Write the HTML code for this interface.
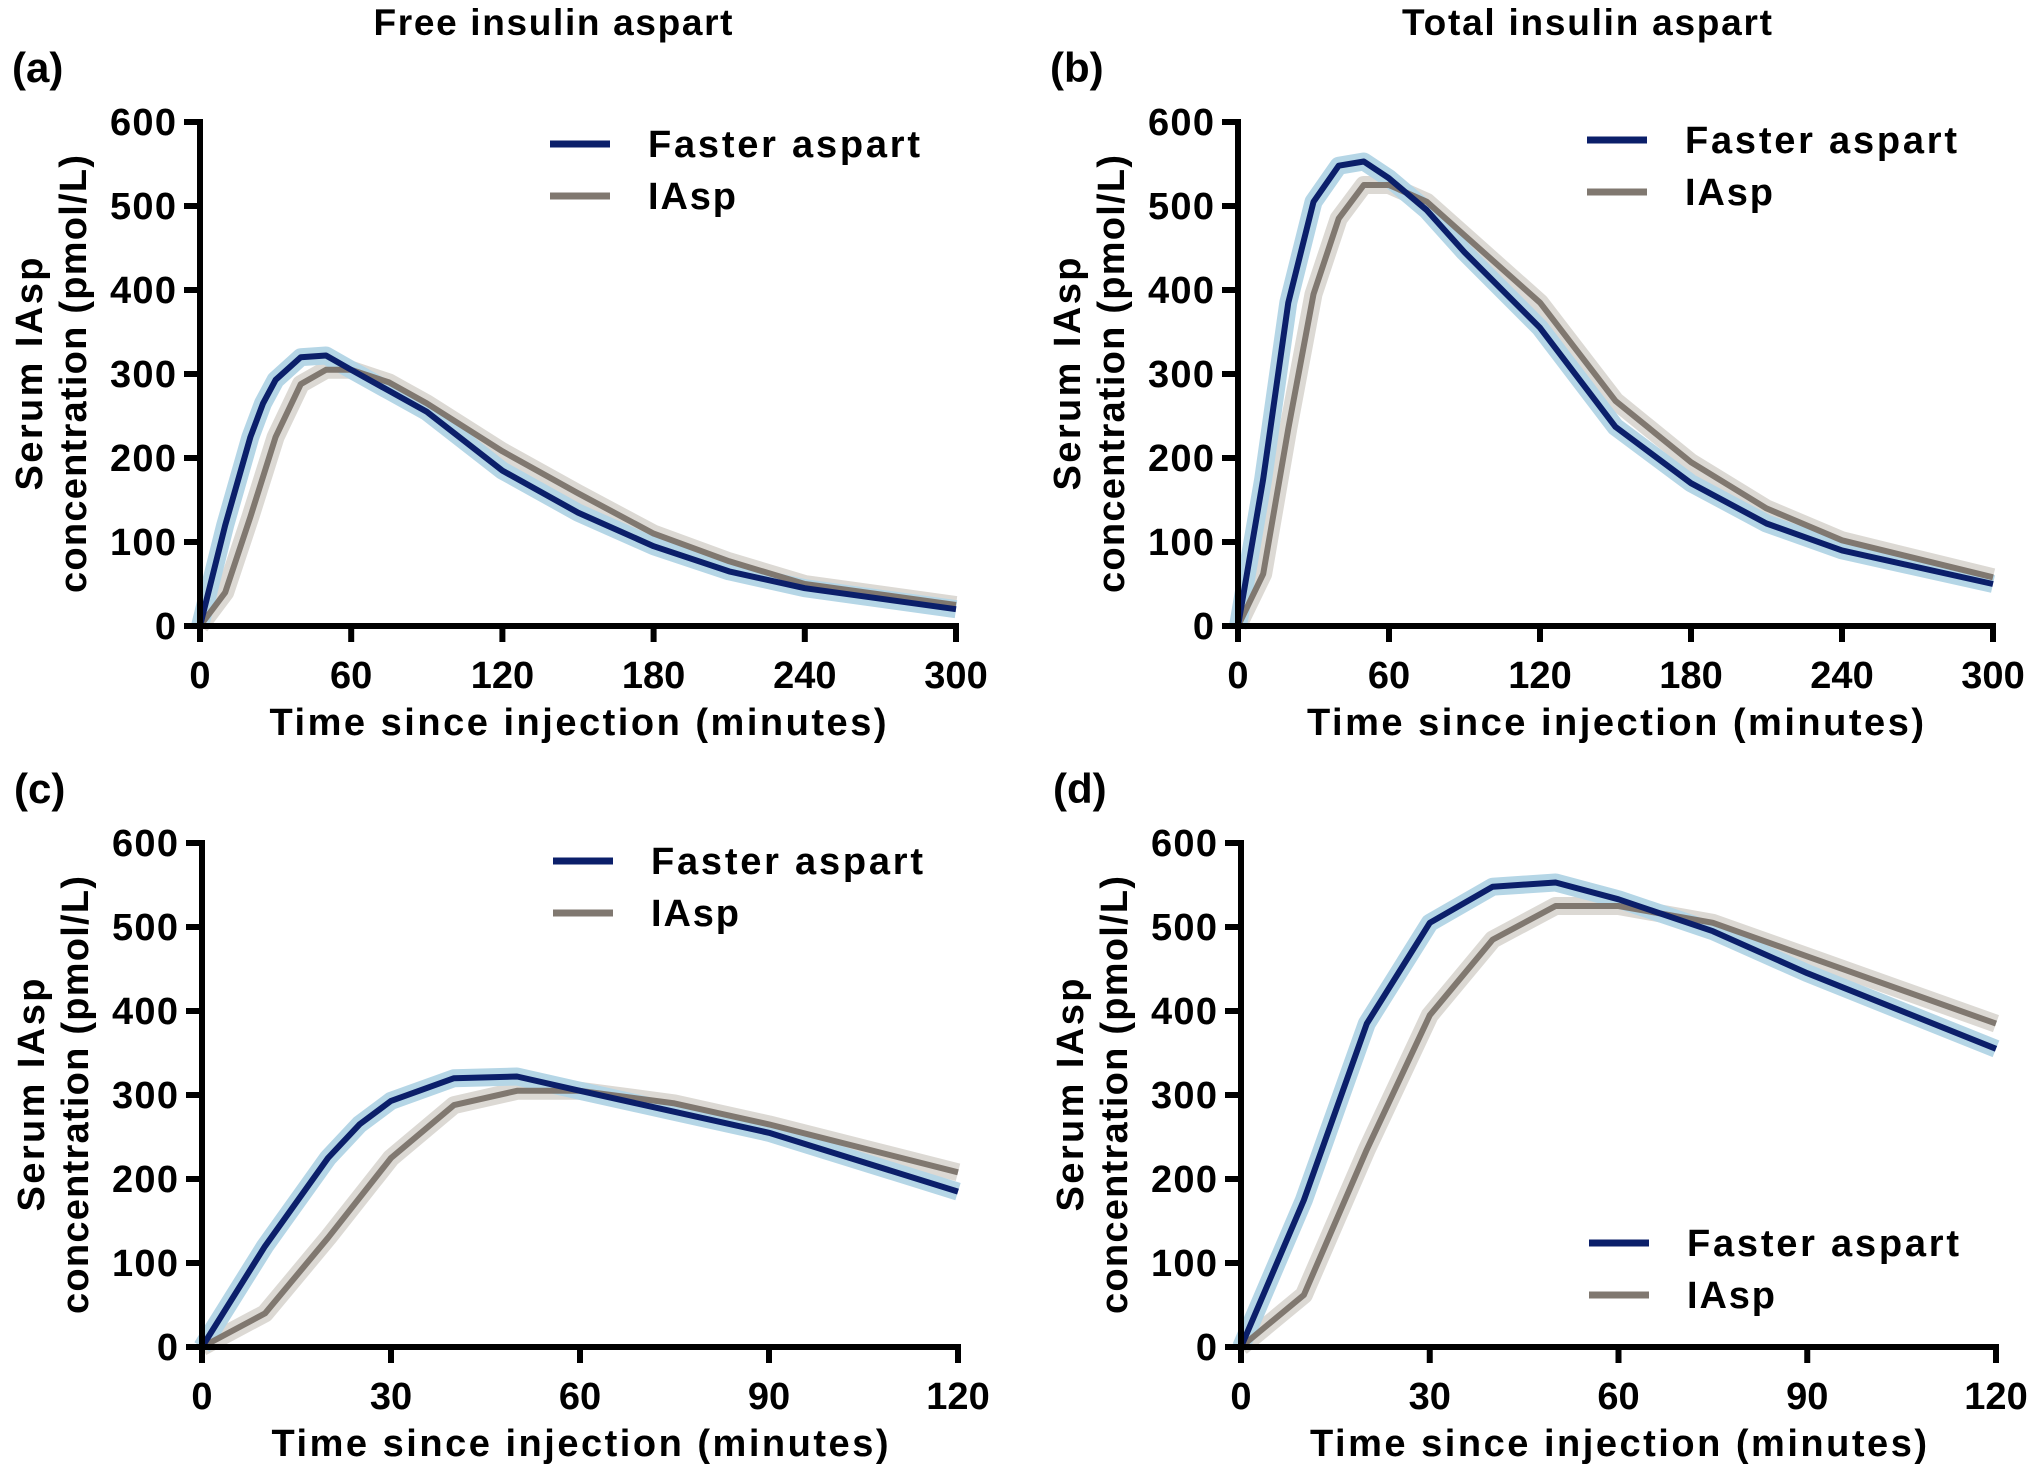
<!DOCTYPE html>
<html><head><meta charset="utf-8"><style>
html,body{margin:0;padding:0;background:#fff;}
svg{display:block;font-family:"Liberation Sans",Arial,sans-serif;font-weight:bold;}
</style></head><body>
<svg id="s" width="2031" height="1470" viewBox="0 0 2031 1470" xmlns="http://www.w3.org/2000/svg">
<text x="553" y="35" font-size="37" text-anchor="middle" textLength="359" lengthAdjust="spacing">Free insulin aspart</text>
<text x="1587" y="35" font-size="37" text-anchor="middle" textLength="370" lengthAdjust="spacing">Total insulin aspart</text>
</svg>
<script>
var S=document.getElementById('s'),NS='http://www.w3.org/2000/svg';
function el(t,a,txt){var e=document.createElementNS(NS,t);for(var k in a)e.setAttribute(k,a[k]);if(txt!==undefined)e.textContent=txt;S.appendChild(e);return e;}
var freeF=[[0,0],[10,120],[20,225],[25,265],[30,293],[40,320],[50,322],[60,305],[75,280],[90,255],[120,185],[150,135],[180,95],[210,65],[240,45],[300,20]];
var freeI=[[0,0],[10,40],[20,130],[30,225],[40,288],[50,305],[60,305],[75,290],[90,265],[120,208],[150,158],[180,110],[210,77],[240,50],[300,25]];
var totF=[[0,0],[10,175],[20,385],[30,505],[40,548],[50,553],[60,533],[75,495],[90,445],[120,355],[150,237],[180,170],[210,122],[240,90],[300,50]];
var totI=[[0,0],[10,62],[20,235],[30,395],[40,485],[50,525],[60,525],[75,505],[90,465],[120,385],[150,268],[180,195],[210,140],[240,102],[300,58]];
function panel(o){
 var x0=o.x0,x1=o.x1,y0=o.y0,y1=o.y1,xm=o.xmax;
 function X(v){return x0+(x1-x0)*v/xm;} function Y(v){return y0+(y1-y0)*v/600;}
 function pts(d){return d.filter(function(p){return p[0]<=xm;}).map(function(p){return X(p[0]).toFixed(1)+','+Y(p[1]).toFixed(1);}).join(' ');}
 el('polyline',{points:pts(o.I),fill:'none',stroke:'#dcd9d4','stroke-width':18,'stroke-linejoin':'round'});
 el('polyline',{points:pts(o.F),fill:'none',stroke:'#b5d6e6','stroke-width':18,'stroke-linejoin':'round'});
 el('polyline',{points:pts(o.I),fill:'none',stroke:'#807870','stroke-width':6,'stroke-linejoin':'round'});
 el('polyline',{points:pts(o.F),fill:'none',stroke:'#0b1f6a','stroke-width':6,'stroke-linejoin':'round'});
 el('path',{d:'M'+x0+','+(y1-3)+'V'+y0+'H'+(x1+3),fill:'none',stroke:'#000','stroke-width':6});
 for(var v=0;v<=600;v+=100){var y=Y(v);el('line',{x1:x0-16,y1:y,x2:x0,y2:y,stroke:'#000','stroke-width':6});
  var tl=v==0?null:66;
  var a={x:x0-24,y:y+13,'font-size':38,'text-anchor':'end'}; if(tl){a.textLength=tl;a.lengthAdjust='spacing';}
  el('text',a,String(v));}
 for(var t=0;t<=xm;t+=o.step){var x=X(t);el('line',{x1:x,y1:y0,x2:x,y2:y0+16,stroke:'#000','stroke-width':6});
  el('text',{x:x,y:y0+62,'font-size':38,'text-anchor':'middle'},String(t));}
 el('text',{x:(x0+x1)/2,y:y0+109,'font-size':38,'text-anchor':'middle',textLength:617,lengthAdjust:'spacing'},'Time since injection (minutes)');
 var cy=(y0+y1)/2;
 el('text',{x:0,y:0,'font-size':38,'text-anchor':'middle',textLength:233,lengthAdjust:'spacing',transform:'translate('+(x0-158)+','+cy+') rotate(-90)'},'Serum IAsp');
 el('text',{x:0,y:0,'font-size':38,'text-anchor':'middle',textLength:438,lengthAdjust:'spacing',transform:'translate('+(x0-114)+','+cy+') rotate(-90)'},'concentration (pmol/L)');
 el('text',{x:x0-188,y:y1-40,'font-size':42},o.lab);
 var L=o.leg;
 el('line',{x1:L[0],y1:L[1],x2:L[0]+60,y2:L[1],stroke:'#0b1f6a','stroke-width':7});
 el('line',{x1:L[0],y1:L[1]+52,x2:L[0]+60,y2:L[1]+52,stroke:'#807870','stroke-width':7});
 el('text',{x:L[0]+98,y:L[1]+13,'font-size':38,textLength:272,lengthAdjust:'spacing'},'Faster aspart');
 el('text',{x:L[0]+98,y:L[1]+65,'font-size':38,textLength:88,lengthAdjust:'spacing'},'IAsp');
}
panel({x0:200,x1:956,y0:626,y1:122,xmax:300,step:60,F:freeF,I:freeI,lab:'(a)',leg:[550,144]});
panel({x0:1238,x1:1993,y0:626,y1:122,xmax:300,step:60,F:totF,I:totI,lab:'(b)',leg:[1587,140]});
panel({x0:202,x1:958,y0:1347,y1:843,xmax:120,step:30,F:freeF,I:freeI,lab:'(c)',leg:[553,861]});
panel({x0:1241,x1:1996,y0:1347,y1:843,xmax:120,step:30,F:totF,I:totI,lab:'(d)',leg:[1589,1243]});
</script>
</body></html>
